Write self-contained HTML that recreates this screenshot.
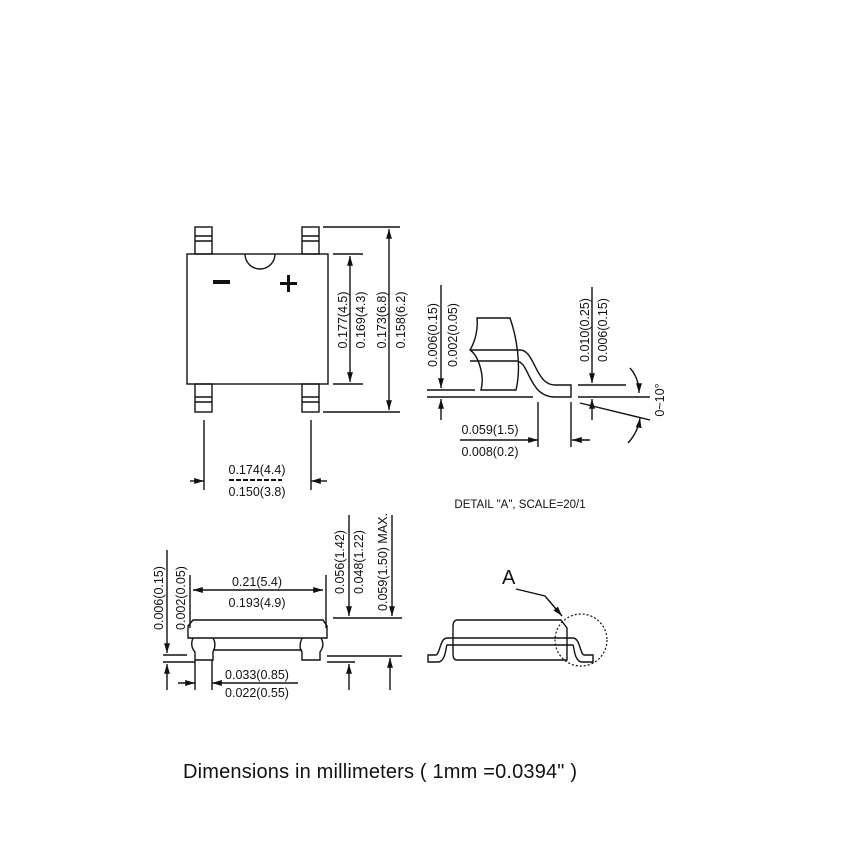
<!DOCTYPE html>
<html><head><style>
body{margin:0;background:#fff}
svg{display:block}
text{font-family:"Liberation Sans",Arial,sans-serif;fill:#111}
</style></head><body>
<svg width="850" height="850" viewBox="0 0 850 850" xmlns="http://www.w3.org/2000/svg">
<defs>
<marker id="a" viewBox="0 0 10 10" refX="10" refY="5" markerWidth="7" markerHeight="7" orient="auto-start-reverse"><path d="M0,2 L10,5 L0,8z" fill="#111"/></marker>
</defs>
<g stroke="#111" stroke-width="1.4" fill="none">
<rect x="187" y="254" width="141" height="130"/>
<path d="M245,254 A15,15 0 0 0 275,254"/>
<rect x="195" y="227" width="17" height="27"/>
<rect x="302" y="227" width="17" height="27"/>
<rect x="195" y="384" width="17" height="28"/>
<rect x="302" y="384" width="17" height="28"/>
<path d="M195,236h17M195,241h17M302,236h17M302,241h17M195,397h17M195,402h17M302,397h17M302,402h17"/>
<path d="M323,227h77M333,254h30M333,384h30M323,412h77"/>
<line x1="350" y1="256" x2="350" y2="382" marker-start="url(#a)" marker-end="url(#a)"/>
<line x1="389" y1="229" x2="389" y2="410" marker-start="url(#a)" marker-end="url(#a)"/>
<path d="M204,420v70M311,420v70"/>
<line x1="190" y1="481" x2="204" y2="481" marker-end="url(#a)"/>
<line x1="327" y1="481" x2="311" y2="481" marker-end="url(#a)"/>
<line x1="229" y1="480" x2="282" y2="480" stroke-dasharray="5,2" stroke-width="2"/>
<path d="M477,318 H510 C516,335 522,365 516,390 H481 C485,375 478,355 470,350 C476,340 478,328 477,318Z"/>
<path d="M470,350 H520 C535,350 535,385 555,385 H571 V397 H555 C528,397 530,361 516,361 H470"/>
<path d="M427,390h48M427,397h106"/>
<line x1="441" y1="285" x2="441" y2="388" marker-end="url(#a)"/>
<line x1="441" y1="420" x2="441" y2="399" marker-end="url(#a)"/>
<path d="M538,402v45M571,402v45"/>
<line x1="460" y1="440" x2="538" y2="440" marker-end="url(#a)"/>
<line x1="590" y1="440" x2="572" y2="440" marker-end="url(#a)"/>
<path d="M578,385h48M578,397h72M580,403L650,420"/>
<line x1="592" y1="287" x2="592" y2="383" marker-end="url(#a)"/>
<line x1="592" y1="420" x2="592" y2="399" marker-end="url(#a)"/>
<path d="M630,368 Q639,378 639,393" marker-end="url(#a)"/>
<path d="M628,443 Q638,432 640,418" marker-end="url(#a)"/>
<path d="M193,620 H323 L327,626 V638 H188 V626Z"/>
<path d="M193,638 C190,645 193,650 195,652 V660 H213 V652 C215,648 216,643 213,638"/>
<path d="M302,638 C299,645 300,650 302,652 V660 H320 V652 C323,648 324,643 321,638"/>
<path d="M213,650h89"/>
<path d="M190,575v53M326,575v53"/>
<line x1="193" y1="590" x2="323" y2="590" marker-start="url(#a)" marker-end="url(#a)"/>
<path d="M163,655h24M163,662h32"/>
<line x1="167" y1="550" x2="167" y2="653" marker-end="url(#a)"/>
<line x1="167" y1="690" x2="167" y2="664" marker-end="url(#a)"/>
<path d="M195,660v30M212,660v30"/>
<line x1="178" y1="683" x2="195" y2="683" marker-end="url(#a)"/>
<line x1="298" y1="683" x2="212" y2="683" marker-end="url(#a)"/>
<path d="M333,618h69M327,656h75M327,662h28"/>
<line x1="349" y1="515" x2="349" y2="616" marker-end="url(#a)"/>
<line x1="392" y1="515" x2="392" y2="616" marker-end="url(#a)"/>
<line x1="349" y1="690" x2="349" y2="664" marker-end="url(#a)"/>
<line x1="390" y1="690" x2="390" y2="658" marker-end="url(#a)"/>
<path d="M457,620 H561 L567,628 V660 H457 C453,660 453,656 453,652 V626 C453,622 455,620 457,620Z"/>
<path d="M447,638h126M447,645h126"/>
<path d="M447,638 C440,638 440,654 436,655 H428 V662 H438 C446,662 446,645 447,645"/>
<path d="M573,638 C580,638 580,654 584,655 H593 V662 H582 C574,662 574,645 573,645"/>
<circle cx="581" cy="640" r="26" stroke-dasharray="2,2" stroke-width="1.2"/>
<path d="M516,589 L545,596 L562,616" marker-end="url(#a)"/>
</g>
<rect x="213" y="280" width="17" height="4" fill="#111"/>
<rect x="280" y="282" width="17" height="3" fill="#111"/><rect x="287" y="275" width="3" height="17" fill="#111"/>
<g font-size="12.5">
<text transform="translate(347,320) rotate(-90)" text-anchor="middle">0.177(4.5)</text>
<text transform="translate(365,320) rotate(-90)" text-anchor="middle">0.169(4.3)</text>
<text transform="translate(386,320) rotate(-90)" text-anchor="middle">0.173(6.8)</text>
<text transform="translate(405,320) rotate(-90)" text-anchor="middle">0.158(6.2)</text>
<text x="257" y="474" text-anchor="middle">0.174(4.4)</text>
<text x="257" y="496" text-anchor="middle">0.150(3.8)</text>
<text transform="translate(437,335) rotate(-90)" text-anchor="middle">0.006(0.15)</text>
<text transform="translate(457,335) rotate(-90)" text-anchor="middle">0.002(0.05)</text>
<text transform="translate(589,330) rotate(-90)" text-anchor="middle">0.010(0.25)</text>
<text transform="translate(607,330) rotate(-90)" text-anchor="middle">0.006(0.15)</text>
<text transform="translate(664,400) rotate(-90)" text-anchor="middle">0~10°</text>
<text x="490" y="434" text-anchor="middle">0.059(1.5)</text>
<text x="490" y="456" text-anchor="middle">0.008(0.2)</text>
<text x="520" y="508" text-anchor="middle" font-size="11.5">DETAIL "A", SCALE=20/1</text>
<text transform="translate(163,598) rotate(-90)" text-anchor="middle">0.006(0.15)</text>
<text transform="translate(185,598) rotate(-90)" text-anchor="middle">0.002(0.05)</text>
<text x="257" y="586" text-anchor="middle">0.21(5.4)</text>
<text x="257" y="607" text-anchor="middle">0.193(4.9)</text>
<text x="257" y="679" text-anchor="middle">0.033(0.85)</text>
<text x="257" y="697" text-anchor="middle">0.022(0.55)</text>
<text transform="translate(344,562) rotate(-90)" text-anchor="middle">0.056(1.42)</text>
<text transform="translate(363,562) rotate(-90)" text-anchor="middle">0.048(1.22)</text>
<text transform="translate(387,562) rotate(-90)" text-anchor="middle">0.059(1.50) MAX.</text>
</g>
<text x="502" y="584" font-size="20">A</text>
<text x="183" y="778" font-size="20" textLength="394">Dimensions in millimeters ( 1mm =0.0394" )</text>
</svg>
</body></html>
